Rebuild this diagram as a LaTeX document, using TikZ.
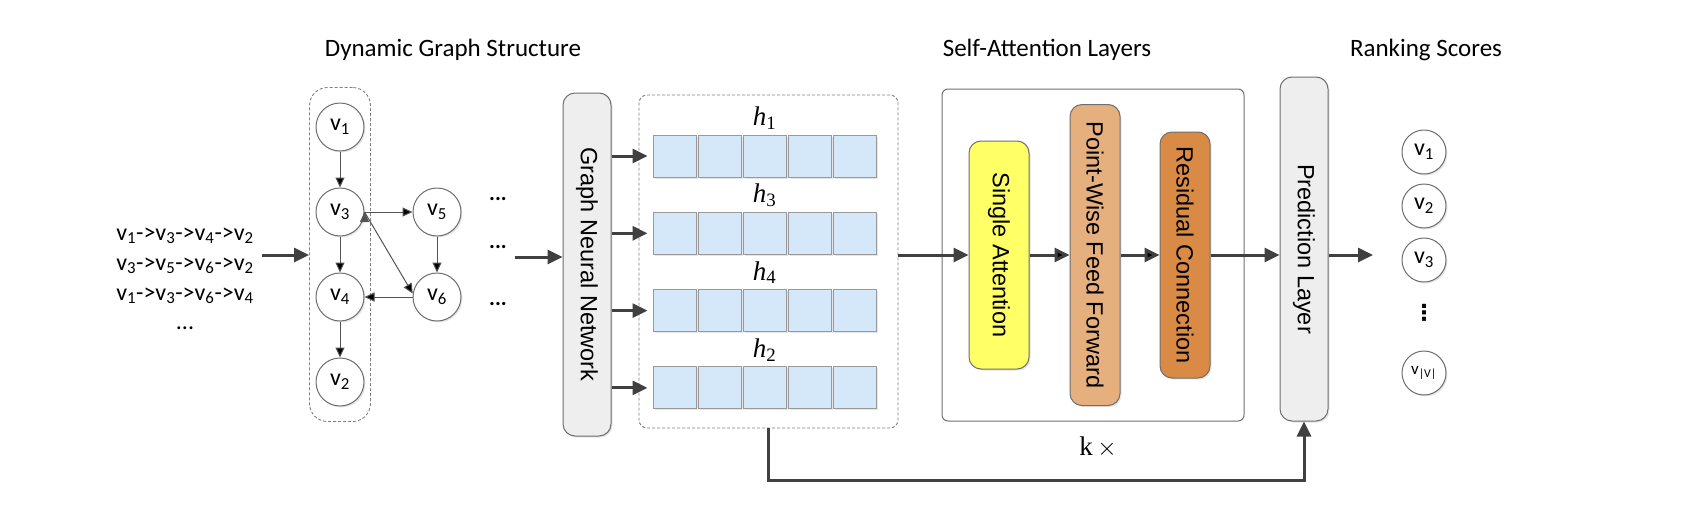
\documentclass[tikz,border=0pt]{standalone}
\usepackage{fontspec}
\setmainfont{Carlito}
\newfontfamily\arialfont{Liberation Sans}
\newfontfamily\timesfont{Liberation Serif}
\newfontfamily\dotsfont{DejaVu Sans}
\usepackage{graphicx}
\usetikzlibrary{arrows.meta,positioning,fit,shadows}

\definecolor{arrowgray}{HTML}{404040}
\definecolor{linegray}{HTML}{6E6E6E}
\definecolor{cellblue}{HTML}{D5E8FA}
\definecolor{boxgray}{HTML}{EEEEEE}
\definecolor{attyellow}{HTML}{FFFF66}
\definecolor{fftan}{HTML}{E6B07E}
\definecolor{resorange}{HTML}{D98A45}

\newcommand{\picfont}[1]{\fontsize{#1}{#1}\selectfont}

\begin{document}
\begin{tikzpicture}[x=1pt,y=-1pt,>={Triangle[length=15pt,width=14pt]},
    soft shadow/.style={drop shadow={shadow xshift=1.5pt,shadow yshift=-1.5pt,opacity=0.2}},
    graph node/.style={circle,draw=linegray,fill=white,line width=1pt,minimum size=48pt,
                       inner sep=0pt,font=\picfont{24},soft shadow},
    rank node/.style={graph node,minimum size=44pt},
    flow/.style={->,draw=arrowgray,line width=3pt},
    edge line/.style={-{Triangle[length=10pt,width=9pt]},draw=arrowgray!90,line width=1pt},
    layer box/.style={draw=linegray,line width=1pt,rounded corners=12pt,soft shadow,
                      inner sep=0pt,font=\arialfont\picfont{23.5}},
    dash box/.style={draw=black!50,line width=0.9pt,dash pattern=on 3pt off 2pt,rounded corners=8pt},
    cell/.style={draw=black!40,fill=cellblue,line width=1pt,minimum width=43pt,minimum height=42pt,
                 inner sep=0pt,soft shadow},
    title/.style={font=\picfont{25}},
    seq/.style={anchor=base,font=\picfont{24}},
    gdots/.style={font=\bfseries\picfont{22}}]

  \useasboundingbox (0,0) rectangle (1686,512);

  % titles
  \node[title] (tgraph) at (453,50) {Dynamic Graph Structure};
  \node[title] (tatt) at (1047,50) {Self-Attention Layers};
  \node[title] (trank) at (1426,50) {Ranking Scores};

  % session sequences
  \node[seq] (seq1) at (185,240) {v\textsubscript{1}->v\textsubscript{3}->v\textsubscript{4}->v\textsubscript{2}};
  \node[seq] (seq2) at (185,270) {v\textsubscript{3}->v\textsubscript{5}->v\textsubscript{6}->v\textsubscript{2}};
  \node[seq] (seq3) at (185,300) {v\textsubscript{1}->v\textsubscript{3}->v\textsubscript{6}->v\textsubscript{4}};
  \node[seq] (seqdots) at (185,329) {...};

  % dynamic graph
  \node[graph node] (v1) at (340,127) {v\textsubscript{1}};
  \node[graph node] (v3) [below=36pt of v1] {v\textsubscript{3}};
  \node[graph node] (v4) [below=36pt of v3] {v\textsubscript{4}};
  \node[graph node] (v2) [below=36pt of v4] {v\textsubscript{2}};
  \node[graph node] (v5) [right=48pt of v3] {v\textsubscript{5}};
  \node[graph node] (v6) [right=48pt of v4] {v\textsubscript{6}};
  \node[dash box,rounded corners=18pt,inner xsep=6pt,inner ysep=15pt,fit=(v1)(v2)] (col) {};
  \path[edge line]
    (v1) edge (v3)
    (v3) edge (v4)
         edge (v5)
    (v3.east) edge (v6.172)
    (v4) edge (v2)
    (v5) edge (v6)
    (v6) edge (v4);

  \coordinate (seqout) at (262,255);
  \draw[flow] (seqout) -- (seqout -| col.west);

  \node[gdots] (gdots1) at (498,199) {...};
  \node[gdots] (gdots2) at (498,247) {...};
  \node[gdots] (gdots3) at (498,304) {...};

  % graph neural network
  \node[layer box,fill=boxgray,minimum width=48pt,minimum height=343pt] (gnn) at (587,264.5)
    {\rotatebox{-90}{Graph Neural Network}};
  \coordinate (gnnin) at (515,257);
  \draw[flow] (gnnin) -- (gnnin -| gnn.west);

  % node embeddings
  \node[dash box,minimum width=259pt,minimum height=333pt] (hbox) at (768.5,261.5) {};
  \foreach \i/\lab in {1/1,2/3,3/4,4/2} {
    \foreach \k in {1,...,5}
      \node[cell] (c\i\k) at ({674.5+45*(\k-1)},{156+77.3*(\i-1)}) {};
    \node[anchor=base,font=\timesfont\picfont{27}] (h\lab) at ([yshift=9pt]c\i3.north) {\textit{h}\textsubscript{\lab}};
    \draw[flow,shorten >=5pt] (gnn.east |- c\i1) -- (c\i1.west);
  }

  % self-attention layers
  \node[draw=linegray,line width=1pt,rounded corners=6pt,minimum width=302pt,minimum height=332pt] (sabox) at (1093,255) {};
  \node[font=\timesfont\picfont{27}] (ktimes) at (1098,447) {k\,$\times$};
  \node[layer box,fill=attyellow,minimum width=60pt,minimum height=228pt] (att) at (999,255)
    {\rotatebox{-90}{Single Attention}};
  \node[layer box,fill=fftan,minimum width=50pt,minimum height=301pt] (pwff) [right=40pt of att]
    {\rotatebox{-90}{Point-Wise Feed Forward}};
  \node[layer box,fill=resorange,minimum width=50pt,minimum height=246pt] (res) [right=39pt of pwff]
    {\rotatebox{-90}{Residual Connection}};
  \node[layer box,fill=boxgray,minimum width=48pt,minimum height=344pt] (pred) [right=69pt of res,yshift=6pt]
    {\rotatebox{-90}{Prediction Layer}};

  \draw[flow] (hbox.east |- att.west) -- (att.west);
  \path[flow]
    (att) edge (pwff)
    (pwff) edge (res);
  \draw[flow] (res.east) -- (res.east -| pred.west);
  \draw[flow] (hbox.south) -- ++(0,52) -| (pred.south);

  \coordinate (predout) at (1373,255);
  \draw[flow] (pred.east |- predout) -- (predout);

  % ranking scores
  \node[rank node] (r1) at (1424,152) {v\textsubscript{1}};
  \node[rank node] (r2) [below=9pt of r1] {v\textsubscript{2}};
  \node[rank node] (r3) [below=9pt of r2] {v\textsubscript{3}};
  \node[font=\dotsfont\bfseries\picfont{22},inner sep=0pt] (rdots) at (1424,313) {⋮};
  \node[rank node,font=\picfont{17}] (rV) at (1424,373) {v\textsubscript{|V|}};
\end{tikzpicture}
\end{document}
